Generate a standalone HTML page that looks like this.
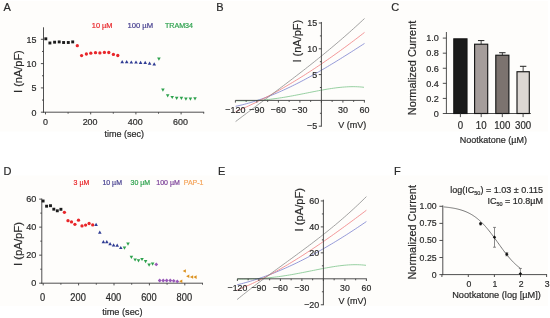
<!DOCTYPE html>
<html><head><meta charset="utf-8"><style>
html,body{margin:0;padding:0;background:#fff;}
body{width:550px;height:318px;overflow:hidden;}
svg{display:block;font-family:"Liberation Sans", sans-serif;will-change:transform;filter:blur(0.3px);}
</style></head><body>
<svg width="550" height="318" viewBox="0 0 550 318">
<rect width="550" height="318" fill="#fff"/>
<rect x="0" y="1" width="548" height="130.5" fill="#fefdfb"/>
<rect x="0" y="175.5" width="548" height="130.5" fill="#fefdfb"/>
<polyline points="236.00,100.74 238.17,100.81 240.34,100.85 242.51,100.87 244.68,100.87 246.85,100.85 249.02,100.81 251.19,100.74 253.36,100.66 255.53,100.55 257.69,100.42 259.86,100.27 262.03,100.10 264.20,99.90 266.37,99.69 268.54,99.46 270.71,99.21 272.88,98.94 275.05,98.65 277.22,98.35 279.39,98.03 281.56,97.70 283.73,97.35 285.90,96.99 288.07,96.61 290.24,96.22 292.41,95.83 294.58,95.42 296.75,95.01 298.92,94.59 301.08,94.16 303.25,93.73 305.42,93.30 307.59,92.86 309.76,92.43 311.93,92.00 314.10,91.57 316.27,91.15 318.44,90.73 320.61,90.32 322.78,89.93 324.95,89.54 327.12,89.17 329.29,88.82 331.46,88.49 333.63,88.18 335.80,87.89 337.97,87.62 340.14,87.38 342.31,87.18 344.47,87.00 346.64,86.86 348.81,86.76 350.98,86.69 353.15,86.67 355.32,86.69 357.49,86.77 359.66,86.89 361.83,87.06 364.00,87.30" fill="none" stroke="#7cc48a" stroke-width="0.8" stroke-linejoin="round"/>
<polyline points="235.60,106.30 237.78,105.84 239.97,105.35 242.15,104.83 244.34,104.28 246.52,103.70 248.71,103.10 250.89,102.46 253.08,101.80 255.26,101.12 257.45,100.41 259.63,99.67 261.82,98.91 264.00,98.12 266.19,97.31 268.37,96.48 270.56,95.62 272.74,94.74 274.93,93.84 277.11,92.91 279.29,91.97 281.48,91.00 283.66,90.01 285.85,89.01 288.03,87.98 290.22,86.94 292.40,85.87 294.59,84.79 296.77,83.69 298.96,82.58 301.14,81.44 303.33,80.30 305.51,79.13 307.70,77.95 309.88,76.76 312.07,75.55 314.25,74.32 316.44,73.09 318.62,71.84 320.81,70.58 322.99,69.30 325.17,68.02 327.36,66.72 329.54,65.42 331.73,64.10 333.91,62.77 336.10,61.44 338.28,60.09 340.47,58.74 342.65,57.38 344.84,56.01 347.02,54.63 349.21,53.25 351.39,51.86 353.58,50.47 355.76,49.07 357.95,47.67 360.13,46.26 362.32,44.85 364.50,43.44" fill="none" stroke="#7b82cf" stroke-width="0.8" stroke-linejoin="round"/>
<polyline points="235.60,111.68 237.78,110.75 239.97,109.80 242.15,108.84 244.34,107.86 246.52,106.87 248.71,105.86 250.89,104.83 253.08,103.79 255.26,102.74 257.45,101.67 259.63,100.58 261.82,99.48 264.00,98.36 266.19,97.22 268.37,96.08 270.56,94.91 272.74,93.74 274.93,92.54 277.11,91.34 279.29,90.12 281.48,88.88 283.66,87.63 285.85,86.37 288.03,85.09 290.22,83.80 292.40,82.50 294.59,81.18 296.77,79.84 298.96,78.50 301.14,77.14 303.33,75.77 305.51,74.38 307.70,72.98 309.88,71.57 312.07,70.15 314.25,68.71 316.44,67.26 318.62,65.80 320.81,64.33 322.99,62.84 325.17,61.34 327.36,59.83 329.54,58.31 331.73,56.78 333.91,55.23 336.10,53.67 338.28,52.10 340.47,50.52 342.65,48.93 344.84,47.33 347.02,45.72 349.21,44.09 351.39,42.46 353.58,40.81 355.76,39.15 357.95,37.49 360.13,35.81 362.32,34.12 364.50,32.42" fill="none" stroke="#f07d80" stroke-width="0.8" stroke-linejoin="round"/>
<polyline points="235.60,121.57 237.78,119.91 239.97,118.26 242.15,116.61 244.34,114.96 246.52,113.32 248.71,111.68 250.89,110.04 253.08,108.41 255.26,106.77 257.45,105.14 259.63,103.50 261.82,101.87 264.00,100.24 266.19,98.60 268.37,96.97 270.56,95.34 272.74,93.70 274.93,92.06 277.11,90.42 279.29,88.78 281.48,87.13 283.66,85.48 285.85,83.83 288.03,82.17 290.22,80.51 292.40,78.84 294.59,77.16 296.77,75.49 298.96,73.80 301.14,72.11 303.33,70.41 305.51,68.71 307.70,66.99 309.88,65.27 312.07,63.54 314.25,61.80 316.44,60.06 318.62,58.30 320.81,56.53 322.99,54.75 325.17,52.97 327.36,51.17 329.54,49.36 331.73,47.53 333.91,45.70 336.10,43.85 338.28,41.99 340.47,40.12 342.65,38.23 344.84,36.33 347.02,34.41 349.21,32.48 351.39,30.54 353.58,28.57 355.76,26.60 357.95,24.60 360.13,22.59 362.32,20.56 364.50,18.52" fill="none" stroke="#8a8a8a" stroke-width="0.8" stroke-linejoin="round"/>
<polyline points="237.10,279.06 239.28,279.07 241.47,279.08 243.65,279.07 245.84,279.05 248.02,279.01 250.21,278.95 252.39,278.88 254.58,278.79 256.76,278.68 258.95,278.56 261.13,278.42 263.32,278.26 265.50,278.08 267.69,277.88 269.87,277.67 272.06,277.43 274.24,277.18 276.43,276.92 278.61,276.63 280.79,276.33 282.98,276.01 285.16,275.68 287.35,275.33 289.53,274.97 291.72,274.60 293.90,274.21 296.09,273.81 298.27,273.40 300.46,272.99 302.64,272.56 304.83,272.13 307.01,271.70 309.20,271.26 311.38,270.82 313.57,270.38 315.75,269.94 317.94,269.50 320.12,269.07 322.31,268.65 324.49,268.23 326.67,267.83 328.86,267.44 331.04,267.07 333.23,266.71 335.41,266.37 337.60,266.06 339.78,265.77 341.97,265.51 344.15,265.28 346.34,265.08 348.52,264.92 350.71,264.80 352.89,264.72 355.08,264.69 357.26,264.71 359.45,264.77 361.63,264.90 363.82,265.08 366.00,265.32" fill="none" stroke="#7cc48a" stroke-width="0.8" stroke-linejoin="round"/>
<polyline points="237.10,284.80 239.29,284.26 241.48,283.70 243.67,283.12 245.87,282.52 248.06,281.90 250.25,281.25 252.44,280.58 254.63,279.89 256.82,279.19 259.02,278.46 261.21,277.71 263.40,276.94 265.59,276.15 267.78,275.34 269.97,274.51 272.16,273.66 274.36,272.79 276.55,271.90 278.74,270.99 280.93,270.07 283.12,269.12 285.31,268.16 287.51,267.18 289.70,266.18 291.89,265.17 294.08,264.13 296.27,263.08 298.46,262.02 300.65,260.93 302.85,259.83 305.04,258.71 307.23,257.58 309.42,256.43 311.61,255.26 313.80,254.08 315.99,252.88 318.19,251.67 320.38,250.44 322.57,249.20 324.76,247.94 326.95,246.67 329.14,245.39 331.34,244.09 333.53,242.77 335.72,241.44 337.91,240.10 340.10,238.75 342.29,237.38 344.48,236.00 346.68,234.61 348.87,233.20 351.06,231.78 353.25,230.35 355.44,228.91 357.63,227.45 359.83,225.99 362.02,224.51 364.21,223.02 366.40,221.53" fill="none" stroke="#7b82cf" stroke-width="0.8" stroke-linejoin="round"/>
<polyline points="237.10,290.10 239.29,289.22 241.48,288.31 243.67,287.38 245.87,286.43 248.06,285.46 250.25,284.47 252.44,283.46 254.63,282.43 256.82,281.38 259.02,280.31 261.21,279.22 263.40,278.11 265.59,276.98 267.78,275.83 269.97,274.67 272.16,273.49 274.36,272.29 276.55,271.07 278.74,269.84 280.93,268.59 283.12,267.32 285.31,266.04 287.51,264.74 289.70,263.43 291.89,262.10 294.08,260.76 296.27,259.41 298.46,258.04 300.65,256.65 302.85,255.25 305.04,253.84 307.23,252.42 309.42,250.98 311.61,249.53 313.80,248.07 315.99,246.60 318.19,245.12 320.38,243.62 322.57,242.12 324.76,240.60 326.95,239.08 329.14,237.54 331.34,236.00 333.53,234.44 335.72,232.88 337.91,231.31 340.10,229.73 342.29,228.14 344.48,226.55 346.68,224.95 348.87,223.34 351.06,221.72 353.25,220.10 355.44,218.47 357.63,216.83 359.83,215.19 362.02,213.55 364.21,211.90 366.40,210.24" fill="none" stroke="#f07d80" stroke-width="0.8" stroke-linejoin="round"/>
<polyline points="237.10,299.57 239.29,297.78 241.48,296.01 243.67,294.25 245.87,292.52 248.06,290.79 250.25,289.09 252.44,287.39 254.63,285.71 256.82,284.04 259.02,282.38 261.21,280.73 263.40,279.09 265.59,277.46 267.78,275.83 269.97,274.21 272.16,272.60 274.36,270.99 276.55,269.39 278.74,267.79 280.93,266.19 283.12,264.59 285.31,263.00 287.51,261.40 289.70,259.81 291.89,258.21 294.08,256.60 296.27,255.00 298.46,253.39 300.65,251.77 302.85,250.15 305.04,248.52 307.23,246.89 309.42,245.24 311.61,243.59 313.80,241.92 315.99,240.24 318.19,238.55 320.38,236.85 322.57,235.14 324.76,233.40 326.95,231.66 329.14,229.89 331.34,228.11 333.53,226.32 335.72,224.50 337.91,222.66 340.10,220.80 342.29,218.92 344.48,217.02 346.68,215.10 348.87,213.15 351.06,211.17 353.25,209.17 355.44,207.14 357.63,205.09 359.83,203.00 362.02,200.89 364.21,198.75 366.40,196.58" fill="none" stroke="#8a8a8a" stroke-width="0.8" stroke-linejoin="round"/>
<text x="3.60" y="10.90" font-size="11" text-anchor="start" fill="#2a2a2a" stroke="#2a2a2a" stroke-width="0.2" >A</text>
<text x="216.20" y="10.90" font-size="11" text-anchor="start" fill="#2a2a2a" stroke="#2a2a2a" stroke-width="0.2" >B</text>
<text x="391.30" y="10.90" font-size="11" text-anchor="start" fill="#2a2a2a" stroke="#2a2a2a" stroke-width="0.2" >C</text>
<text x="3.60" y="174.90" font-size="11" text-anchor="start" fill="#2a2a2a" stroke="#2a2a2a" stroke-width="0.2" >D</text>
<text x="217.90" y="174.90" font-size="11" text-anchor="start" fill="#2a2a2a" stroke="#2a2a2a" stroke-width="0.2" >E</text>
<text x="394.00" y="174.90" font-size="11" text-anchor="start" fill="#2a2a2a" stroke="#2a2a2a" stroke-width="0.2" >F</text>
<line x1="43.50" y1="27.30" x2="43.50" y2="112.65" stroke="#3c3c3c" stroke-width="0.9"/>
<line x1="43.05" y1="112.20" x2="204.15" y2="112.20" stroke="#3c3c3c" stroke-width="0.9"/>
<line x1="40.90" y1="112.20" x2="43.50" y2="112.20" stroke="#3c3c3c" stroke-width="0.9"/>
<text transform="translate(36.50,115.60) scale(0.93,1)" font-size="9.6" text-anchor="end" fill="#2a2a2a" stroke="#2a2a2a" stroke-width="0.2" >0</text>
<line x1="40.90" y1="87.90" x2="43.50" y2="87.90" stroke="#3c3c3c" stroke-width="0.9"/>
<text transform="translate(36.50,91.30) scale(0.93,1)" font-size="9.6" text-anchor="end" fill="#2a2a2a" stroke="#2a2a2a" stroke-width="0.2" >5</text>
<line x1="40.90" y1="63.60" x2="43.50" y2="63.60" stroke="#3c3c3c" stroke-width="0.9"/>
<text transform="translate(36.50,67.00) scale(0.93,1)" font-size="9.6" text-anchor="end" fill="#2a2a2a" stroke="#2a2a2a" stroke-width="0.2" >10</text>
<line x1="40.90" y1="39.30" x2="43.50" y2="39.30" stroke="#3c3c3c" stroke-width="0.9"/>
<text transform="translate(36.50,42.70) scale(0.93,1)" font-size="9.6" text-anchor="end" fill="#2a2a2a" stroke="#2a2a2a" stroke-width="0.2" >15</text>
<line x1="42.00" y1="100.05" x2="43.50" y2="100.05" stroke="#3c3c3c" stroke-width="0.9"/>
<line x1="42.00" y1="75.75" x2="43.50" y2="75.75" stroke="#3c3c3c" stroke-width="0.9"/>
<line x1="42.00" y1="51.45" x2="43.50" y2="51.45" stroke="#3c3c3c" stroke-width="0.9"/>
<line x1="45.50" y1="112.20" x2="45.50" y2="114.40" stroke="#3c3c3c" stroke-width="0.9"/>
<text transform="translate(45.50,124.90) scale(0.95,1)" font-size="9.4" text-anchor="middle" fill="#2a2a2a" stroke="#2a2a2a" stroke-width="0.2" >0</text>
<line x1="68.10" y1="112.20" x2="68.10" y2="113.70" stroke="#3c3c3c" stroke-width="0.9"/>
<line x1="90.70" y1="112.20" x2="90.70" y2="114.40" stroke="#3c3c3c" stroke-width="0.9"/>
<text transform="translate(90.10,124.90) scale(0.95,1)" font-size="9.4" text-anchor="middle" fill="#2a2a2a" stroke="#2a2a2a" stroke-width="0.2" >200</text>
<line x1="113.30" y1="112.20" x2="113.30" y2="113.70" stroke="#3c3c3c" stroke-width="0.9"/>
<line x1="135.90" y1="112.20" x2="135.90" y2="114.40" stroke="#3c3c3c" stroke-width="0.9"/>
<text transform="translate(135.30,124.90) scale(0.95,1)" font-size="9.4" text-anchor="middle" fill="#2a2a2a" stroke="#2a2a2a" stroke-width="0.2" >400</text>
<line x1="158.50" y1="112.20" x2="158.50" y2="113.70" stroke="#3c3c3c" stroke-width="0.9"/>
<line x1="181.10" y1="112.20" x2="181.10" y2="114.40" stroke="#3c3c3c" stroke-width="0.9"/>
<text transform="translate(180.50,124.90) scale(0.95,1)" font-size="9.4" text-anchor="middle" fill="#2a2a2a" stroke="#2a2a2a" stroke-width="0.2" >600</text>
<line x1="203.70" y1="112.20" x2="203.70" y2="113.70" stroke="#3c3c3c" stroke-width="0.9"/>
<text x="124.30" y="136.70" font-size="9" text-anchor="middle" fill="#2a2a2a" stroke="#2a2a2a" stroke-width="0.2" >time (sec)</text>
<text transform="translate(21.80,71.60) rotate(-90) scale(1,0.92)" font-size="11" text-anchor="middle" fill="#2a2a2a" stroke="#2a2a2a" stroke-width="0.2">I (nA/pF)</text>
<text x="91.80" y="28.40" font-size="7.4" text-anchor="start" fill="#e8262a" stroke="#e8262a" stroke-width="0.2" >10 µM</text>
<text x="127.40" y="28.40" font-size="7.7" text-anchor="start" fill="#463f8f" stroke="#463f8f" stroke-width="0.2" >100 µM</text>
<text x="165.00" y="28.30" font-size="7.1" text-anchor="start" fill="#2ea24e" stroke="#2ea24e" stroke-width="0.2" >TRAM34</text>
<rect x="44.35" y="37.35" width="2.9" height="2.9" fill="#1c1c1c"/>
<rect x="48.45" y="41.55" width="2.9" height="2.9" fill="#1c1c1c"/>
<rect x="53.15" y="40.75" width="2.9" height="2.9" fill="#1c1c1c"/>
<rect x="57.75" y="40.45" width="2.9" height="2.9" fill="#1c1c1c"/>
<rect x="62.15" y="41.05" width="2.9" height="2.9" fill="#1c1c1c"/>
<rect x="66.85" y="41.05" width="2.9" height="2.9" fill="#1c1c1c"/>
<rect x="71.25" y="40.45" width="2.9" height="2.9" fill="#1c1c1c"/>
<circle cx="77.30" cy="45.70" r="1.65" fill="#e8262a"/>
<circle cx="81.60" cy="55.60" r="1.65" fill="#e8262a"/>
<circle cx="86.40" cy="54.00" r="1.65" fill="#e8262a"/>
<circle cx="90.80" cy="53.20" r="1.65" fill="#e8262a"/>
<circle cx="95.50" cy="52.70" r="1.65" fill="#e8262a"/>
<circle cx="99.90" cy="52.90" r="1.65" fill="#e8262a"/>
<circle cx="104.40" cy="52.40" r="1.65" fill="#e8262a"/>
<circle cx="108.80" cy="52.50" r="1.65" fill="#e8262a"/>
<circle cx="113.40" cy="54.40" r="1.65" fill="#e8262a"/>
<circle cx="117.80" cy="55.50" r="1.65" fill="#e8262a"/>
<path d="M120.40,63.30L124.00,63.30L122.20,60.10Z" fill="#2f3c94"/>
<path d="M124.90,63.30L128.50,63.30L126.70,60.10Z" fill="#2f3c94"/>
<path d="M129.50,63.60L133.10,63.60L131.30,60.40Z" fill="#2f3c94"/>
<path d="M134.20,63.60L137.80,63.60L136.00,60.40Z" fill="#2f3c94"/>
<path d="M138.80,64.00L142.40,64.00L140.60,60.80Z" fill="#2f3c94"/>
<path d="M143.40,64.00L147.00,64.00L145.20,60.80Z" fill="#2f3c94"/>
<path d="M147.80,64.70L151.40,64.70L149.60,61.50Z" fill="#2f3c94"/>
<path d="M152.40,65.40L156.00,65.40L154.20,62.20Z" fill="#2f3c94"/>
<path d="M157.10,57.50L160.70,57.50L158.90,60.70Z" fill="#2ea24e"/>
<path d="M161.10,88.50L164.70,88.50L162.90,91.70Z" fill="#2ea24e"/>
<path d="M165.90,94.20L169.50,94.20L167.70,97.40Z" fill="#2ea24e"/>
<path d="M170.40,95.90L174.00,95.90L172.20,99.10Z" fill="#2ea24e"/>
<path d="M174.90,96.80L178.50,96.80L176.70,100.00Z" fill="#2ea24e"/>
<path d="M179.60,96.80L183.20,96.80L181.40,100.00Z" fill="#2ea24e"/>
<path d="M184.10,97.60L187.70,97.60L185.90,100.80Z" fill="#2ea24e"/>
<path d="M188.60,97.60L192.20,97.60L190.40,100.80Z" fill="#2ea24e"/>
<path d="M193.20,97.20L196.80,97.20L195.00,100.40Z" fill="#2ea24e"/>
<line x1="321.40" y1="21.97" x2="321.40" y2="126.65" stroke="#3c3c3c" stroke-width="0.9"/>
<line x1="235.40" y1="100.40" x2="364.85" y2="100.40" stroke="#3c3c3c" stroke-width="0.9"/>
<line x1="235.40" y1="100.40" x2="235.40" y2="102.60" stroke="#3c3c3c" stroke-width="0.9"/>
<text transform="translate(235.40,112.80) scale(0.93,1)" font-size="9.6" text-anchor="middle" fill="#2a2a2a" stroke="#2a2a2a" stroke-width="0.2" >−120</text>
<line x1="246.15" y1="100.40" x2="246.15" y2="101.90" stroke="#3c3c3c" stroke-width="0.9"/>
<line x1="256.90" y1="100.40" x2="256.90" y2="102.60" stroke="#3c3c3c" stroke-width="0.9"/>
<text transform="translate(256.90,112.80) scale(0.93,1)" font-size="9.6" text-anchor="middle" fill="#2a2a2a" stroke="#2a2a2a" stroke-width="0.2" >−90</text>
<line x1="267.65" y1="100.40" x2="267.65" y2="101.90" stroke="#3c3c3c" stroke-width="0.9"/>
<line x1="278.40" y1="100.40" x2="278.40" y2="102.60" stroke="#3c3c3c" stroke-width="0.9"/>
<text transform="translate(278.40,112.80) scale(0.93,1)" font-size="9.6" text-anchor="middle" fill="#2a2a2a" stroke="#2a2a2a" stroke-width="0.2" >−60</text>
<line x1="289.15" y1="100.40" x2="289.15" y2="101.90" stroke="#3c3c3c" stroke-width="0.9"/>
<line x1="299.90" y1="100.40" x2="299.90" y2="102.60" stroke="#3c3c3c" stroke-width="0.9"/>
<text transform="translate(299.90,112.80) scale(0.93,1)" font-size="9.6" text-anchor="middle" fill="#2a2a2a" stroke="#2a2a2a" stroke-width="0.2" >−30</text>
<line x1="310.65" y1="100.40" x2="310.65" y2="101.90" stroke="#3c3c3c" stroke-width="0.9"/>
<line x1="321.40" y1="100.40" x2="321.40" y2="102.60" stroke="#3c3c3c" stroke-width="0.9"/>
<line x1="332.15" y1="100.40" x2="332.15" y2="101.90" stroke="#3c3c3c" stroke-width="0.9"/>
<line x1="342.90" y1="100.40" x2="342.90" y2="102.60" stroke="#3c3c3c" stroke-width="0.9"/>
<text transform="translate(342.90,112.80) scale(0.93,1)" font-size="9.6" text-anchor="middle" fill="#2a2a2a" stroke="#2a2a2a" stroke-width="0.2" >30</text>
<line x1="353.65" y1="100.40" x2="353.65" y2="101.90" stroke="#3c3c3c" stroke-width="0.9"/>
<line x1="364.40" y1="100.40" x2="364.40" y2="102.60" stroke="#3c3c3c" stroke-width="0.9"/>
<text transform="translate(364.40,112.80) scale(0.93,1)" font-size="9.6" text-anchor="middle" fill="#2a2a2a" stroke="#2a2a2a" stroke-width="0.2" >60</text>
<line x1="318.80" y1="126.20" x2="321.40" y2="126.20" stroke="#3c3c3c" stroke-width="0.9"/>
<text transform="translate(317.20,129.20) scale(0.93,1)" font-size="9.6" text-anchor="end" fill="#2a2a2a" stroke="#2a2a2a" stroke-width="0.2" >−5</text>
<line x1="318.80" y1="74.60" x2="321.40" y2="74.60" stroke="#3c3c3c" stroke-width="0.9"/>
<text transform="translate(317.20,77.60) scale(0.93,1)" font-size="9.6" text-anchor="end" fill="#2a2a2a" stroke="#2a2a2a" stroke-width="0.2" >5</text>
<line x1="318.80" y1="48.80" x2="321.40" y2="48.80" stroke="#3c3c3c" stroke-width="0.9"/>
<text transform="translate(317.20,51.80) scale(0.93,1)" font-size="9.6" text-anchor="end" fill="#2a2a2a" stroke="#2a2a2a" stroke-width="0.2" >10</text>
<line x1="318.80" y1="23.00" x2="321.40" y2="23.00" stroke="#3c3c3c" stroke-width="0.9"/>
<text transform="translate(317.20,26.00) scale(0.93,1)" font-size="9.6" text-anchor="end" fill="#2a2a2a" stroke="#2a2a2a" stroke-width="0.2" >15</text>
<line x1="319.90" y1="113.30" x2="321.40" y2="113.30" stroke="#3c3c3c" stroke-width="0.9"/>
<line x1="319.90" y1="87.50" x2="321.40" y2="87.50" stroke="#3c3c3c" stroke-width="0.9"/>
<line x1="319.90" y1="61.70" x2="321.40" y2="61.70" stroke="#3c3c3c" stroke-width="0.9"/>
<line x1="319.90" y1="35.90" x2="321.40" y2="35.90" stroke="#3c3c3c" stroke-width="0.9"/>
<text x="366.20" y="127.70" font-size="9" text-anchor="end" fill="#2a2a2a" stroke="#2a2a2a" stroke-width="0.2" >V (mV)</text>
<text transform="translate(301.20,41.20) rotate(-90) scale(1,0.92)" font-size="11" text-anchor="middle" fill="#2a2a2a" stroke="#2a2a2a" stroke-width="0.2">I (nA/pF)</text>
<line x1="446.40" y1="32.00" x2="446.40" y2="113.95" stroke="#3c3c3c" stroke-width="0.9"/>
<line x1="445.95" y1="113.50" x2="530.90" y2="113.50" stroke="#3c3c3c" stroke-width="0.9"/>
<line x1="442.80" y1="113.50" x2="446.40" y2="113.50" stroke="#3c3c3c" stroke-width="0.9"/>
<text transform="translate(438.90,116.80) scale(0.95,1)" font-size="9.6" text-anchor="end" fill="#2a2a2a" stroke="#2a2a2a" stroke-width="0.2" >0</text>
<line x1="442.80" y1="98.42" x2="446.40" y2="98.42" stroke="#3c3c3c" stroke-width="0.9"/>
<text transform="translate(438.90,101.72) scale(0.95,1)" font-size="9.6" text-anchor="end" fill="#2a2a2a" stroke="#2a2a2a" stroke-width="0.2" >0.2</text>
<line x1="442.80" y1="83.34" x2="446.40" y2="83.34" stroke="#3c3c3c" stroke-width="0.9"/>
<text transform="translate(438.90,86.64) scale(0.95,1)" font-size="9.6" text-anchor="end" fill="#2a2a2a" stroke="#2a2a2a" stroke-width="0.2" >0.4</text>
<line x1="442.80" y1="68.26" x2="446.40" y2="68.26" stroke="#3c3c3c" stroke-width="0.9"/>
<text transform="translate(438.90,71.56) scale(0.95,1)" font-size="9.6" text-anchor="end" fill="#2a2a2a" stroke="#2a2a2a" stroke-width="0.2" >0.6</text>
<line x1="442.80" y1="53.18" x2="446.40" y2="53.18" stroke="#3c3c3c" stroke-width="0.9"/>
<text transform="translate(438.90,56.48) scale(0.95,1)" font-size="9.6" text-anchor="end" fill="#2a2a2a" stroke="#2a2a2a" stroke-width="0.2" >0.8</text>
<line x1="442.80" y1="38.10" x2="446.40" y2="38.10" stroke="#3c3c3c" stroke-width="0.9"/>
<text transform="translate(438.90,41.40) scale(0.95,1)" font-size="9.6" text-anchor="end" fill="#2a2a2a" stroke="#2a2a2a" stroke-width="0.2" >1.0</text>
<rect x="453.80" y="38.85" width="13.20" height="74.65" fill="#1b1b1b" stroke="#161616" stroke-width="1.15"/>
<line x1="481.15" y1="40.59" x2="481.15" y2="44.21" stroke="#333" stroke-width="0.9"/>
<line x1="477.95" y1="40.59" x2="484.35" y2="40.59" stroke="#222" stroke-width="1.0"/>
<rect x="474.60" y="44.21" width="13.10" height="69.29" fill="#a59d9b" stroke="#161616" stroke-width="1.15"/>
<line x1="502.35" y1="52.73" x2="502.35" y2="55.22" stroke="#333" stroke-width="0.9"/>
<line x1="499.15" y1="52.73" x2="505.55" y2="52.73" stroke="#222" stroke-width="1.0"/>
<rect x="495.80" y="55.22" width="13.10" height="58.28" fill="#7c736f" stroke="#161616" stroke-width="1.15"/>
<line x1="523.15" y1="66.30" x2="523.15" y2="71.73" stroke="#333" stroke-width="0.9"/>
<line x1="519.95" y1="66.30" x2="526.35" y2="66.30" stroke="#222" stroke-width="1.0"/>
<rect x="517.00" y="71.73" width="12.30" height="41.77" fill="#dcd7d3" stroke="#161616" stroke-width="1.15"/>
<line x1="460.40" y1="113.50" x2="460.40" y2="117.10" stroke="#3c3c3c" stroke-width="0.9"/>
<text transform="translate(460.40,128.90) scale(0.93,1)" font-size="10.4" text-anchor="middle" fill="#2a2a2a" stroke="#2a2a2a" stroke-width="0.2" >0</text>
<line x1="481.20" y1="113.50" x2="481.20" y2="117.10" stroke="#3c3c3c" stroke-width="0.9"/>
<text transform="translate(481.20,128.90) scale(0.93,1)" font-size="10.4" text-anchor="middle" fill="#2a2a2a" stroke="#2a2a2a" stroke-width="0.2" >10</text>
<line x1="502.30" y1="113.50" x2="502.30" y2="117.10" stroke="#3c3c3c" stroke-width="0.9"/>
<text transform="translate(502.30,128.90) scale(0.93,1)" font-size="10.4" text-anchor="middle" fill="#2a2a2a" stroke="#2a2a2a" stroke-width="0.2" >100</text>
<line x1="523.10" y1="113.50" x2="523.10" y2="117.10" stroke="#3c3c3c" stroke-width="0.9"/>
<text transform="translate(523.10,128.90) scale(0.93,1)" font-size="10.4" text-anchor="middle" fill="#2a2a2a" stroke="#2a2a2a" stroke-width="0.2" >300</text>
<text x="493.30" y="142.70" font-size="9" text-anchor="middle" fill="#2a2a2a" stroke="#2a2a2a" stroke-width="0.2" >Nootkatone (µM)</text>
<text transform="translate(415.50,68.00) rotate(-90) scale(1,0.92)" font-size="10.9" text-anchor="middle" fill="#2a2a2a" stroke="#2a2a2a" stroke-width="0.2">Normalized Current</text>
<line x1="41.80" y1="198.50" x2="41.80" y2="283.65" stroke="#3c3c3c" stroke-width="0.9"/>
<line x1="41.35" y1="283.20" x2="202.95" y2="283.20" stroke="#3c3c3c" stroke-width="0.9"/>
<line x1="39.20" y1="283.20" x2="41.80" y2="283.20" stroke="#3c3c3c" stroke-width="0.9"/>
<text transform="translate(36.40,286.20) scale(0.93,1)" font-size="9.8" text-anchor="end" fill="#2a2a2a" stroke="#2a2a2a" stroke-width="0.2" >0</text>
<line x1="40.30" y1="269.19" x2="41.80" y2="269.19" stroke="#3c3c3c" stroke-width="0.9"/>
<line x1="39.20" y1="255.17" x2="41.80" y2="255.17" stroke="#3c3c3c" stroke-width="0.9"/>
<text transform="translate(36.40,258.17) scale(0.93,1)" font-size="9.8" text-anchor="end" fill="#2a2a2a" stroke="#2a2a2a" stroke-width="0.2" >20</text>
<line x1="40.30" y1="241.15" x2="41.80" y2="241.15" stroke="#3c3c3c" stroke-width="0.9"/>
<line x1="39.20" y1="227.14" x2="41.80" y2="227.14" stroke="#3c3c3c" stroke-width="0.9"/>
<text transform="translate(36.40,230.14) scale(0.93,1)" font-size="9.8" text-anchor="end" fill="#2a2a2a" stroke="#2a2a2a" stroke-width="0.2" >40</text>
<line x1="40.30" y1="213.12" x2="41.80" y2="213.12" stroke="#3c3c3c" stroke-width="0.9"/>
<line x1="39.20" y1="199.11" x2="41.80" y2="199.11" stroke="#3c3c3c" stroke-width="0.9"/>
<text transform="translate(36.40,202.11) scale(0.93,1)" font-size="9.8" text-anchor="end" fill="#2a2a2a" stroke="#2a2a2a" stroke-width="0.2" >60</text>
<line x1="43.20" y1="283.20" x2="43.20" y2="285.40" stroke="#3c3c3c" stroke-width="0.9"/>
<text transform="translate(42.70,300.70) scale(0.93,1)" font-size="10" text-anchor="middle" fill="#2a2a2a" stroke="#2a2a2a" stroke-width="0.2" >0</text>
<line x1="60.90" y1="283.20" x2="60.90" y2="284.70" stroke="#3c3c3c" stroke-width="0.9"/>
<line x1="78.60" y1="283.20" x2="78.60" y2="285.40" stroke="#3c3c3c" stroke-width="0.9"/>
<text transform="translate(78.10,300.70) scale(0.93,1)" font-size="10" text-anchor="middle" fill="#2a2a2a" stroke="#2a2a2a" stroke-width="0.2" >200</text>
<line x1="96.30" y1="283.20" x2="96.30" y2="284.70" stroke="#3c3c3c" stroke-width="0.9"/>
<line x1="114.00" y1="283.20" x2="114.00" y2="285.40" stroke="#3c3c3c" stroke-width="0.9"/>
<text transform="translate(113.50,300.70) scale(0.93,1)" font-size="10" text-anchor="middle" fill="#2a2a2a" stroke="#2a2a2a" stroke-width="0.2" >400</text>
<line x1="131.70" y1="283.20" x2="131.70" y2="284.70" stroke="#3c3c3c" stroke-width="0.9"/>
<line x1="149.40" y1="283.20" x2="149.40" y2="285.40" stroke="#3c3c3c" stroke-width="0.9"/>
<text transform="translate(148.90,300.70) scale(0.93,1)" font-size="10" text-anchor="middle" fill="#2a2a2a" stroke="#2a2a2a" stroke-width="0.2" >600</text>
<line x1="167.10" y1="283.20" x2="167.10" y2="284.70" stroke="#3c3c3c" stroke-width="0.9"/>
<line x1="184.80" y1="283.20" x2="184.80" y2="285.40" stroke="#3c3c3c" stroke-width="0.9"/>
<text transform="translate(184.30,300.70) scale(0.93,1)" font-size="10" text-anchor="middle" fill="#2a2a2a" stroke="#2a2a2a" stroke-width="0.2" >800</text>
<line x1="202.50" y1="283.20" x2="202.50" y2="284.70" stroke="#3c3c3c" stroke-width="0.9"/>
<text x="122.30" y="315.00" font-size="9.2" text-anchor="middle" fill="#2a2a2a" stroke="#2a2a2a" stroke-width="0.2" >time (sec)</text>
<text transform="translate(21.80,244.00) rotate(-90) scale(1,0.92)" font-size="11.3" text-anchor="middle" fill="#2a2a2a" stroke="#2a2a2a" stroke-width="0.2">I (pA/pF)</text>
<text x="73.60" y="184.90" font-size="7.0" text-anchor="start" fill="#e8262a" stroke="#e8262a" stroke-width="0.2" >3 µM</text>
<text x="102.40" y="184.90" font-size="7.0" text-anchor="start" fill="#463f8f" stroke="#463f8f" stroke-width="0.2" >10 µM</text>
<text x="130.60" y="184.90" font-size="7.0" text-anchor="start" fill="#2ea24e" stroke="#2ea24e" stroke-width="0.2" >30 µM</text>
<text x="156.30" y="184.90" font-size="7.0" text-anchor="start" fill="#7b3f98" stroke="#7b3f98" stroke-width="0.2" >100 µM</text>
<text x="183.80" y="184.90" font-size="7.0" text-anchor="start" fill="#f4a45a" stroke="#f4a45a" stroke-width="0.2" >PAP-1</text>
<rect x="41.65" y="199.55" width="2.9" height="2.9" fill="#1c1c1c"/>
<rect x="45.15" y="204.75" width="2.9" height="2.9" fill="#1c1c1c"/>
<rect x="49.05" y="204.25" width="2.9" height="2.9" fill="#1c1c1c"/>
<rect x="52.35" y="207.75" width="2.9" height="2.9" fill="#1c1c1c"/>
<rect x="55.85" y="209.35" width="2.9" height="2.9" fill="#1c1c1c"/>
<rect x="59.45" y="207.85" width="2.9" height="2.9" fill="#1c1c1c"/>
<circle cx="64.40" cy="212.30" r="1.65" fill="#e8262a"/>
<circle cx="68.00" cy="220.70" r="1.65" fill="#e8262a"/>
<circle cx="71.50" cy="221.90" r="1.65" fill="#e8262a"/>
<circle cx="74.90" cy="224.30" r="1.65" fill="#e8262a"/>
<circle cx="78.50" cy="220.20" r="1.65" fill="#e8262a"/>
<circle cx="82.00" cy="225.90" r="1.65" fill="#e8262a"/>
<circle cx="85.60" cy="225.10" r="1.65" fill="#e8262a"/>
<circle cx="89.10" cy="223.50" r="1.65" fill="#e8262a"/>
<circle cx="92.70" cy="224.90" r="1.65" fill="#e8262a"/>
<path d="M94.30,225.90L97.90,225.90L96.10,222.70Z" fill="#2f3c94"/>
<path d="M98.00,233.70L101.60,233.70L99.80,230.50Z" fill="#2f3c94"/>
<path d="M101.60,243.20L105.20,243.20L103.40,240.00Z" fill="#2f3c94"/>
<path d="M105.00,243.20L108.60,243.20L106.80,240.00Z" fill="#2f3c94"/>
<path d="M108.30,245.20L111.90,245.20L110.10,242.00Z" fill="#2f3c94"/>
<path d="M111.80,246.50L115.40,246.50L113.60,243.30Z" fill="#2f3c94"/>
<path d="M115.40,246.80L119.00,246.80L117.20,243.60Z" fill="#2f3c94"/>
<path d="M119.00,249.10L122.60,249.10L120.80,245.90Z" fill="#2f3c94"/>
<path d="M122.70,246.50L126.30,246.50L124.50,249.70Z" fill="#2ea24e"/>
<path d="M126.20,242.60L129.80,242.60L128.00,245.80Z" fill="#2ea24e"/>
<path d="M129.60,255.80L133.20,255.80L131.40,259.00Z" fill="#2ea24e"/>
<path d="M133.30,258.40L136.90,258.40L135.10,261.60Z" fill="#2ea24e"/>
<path d="M136.70,259.20L140.30,259.20L138.50,262.40Z" fill="#2ea24e"/>
<path d="M140.20,257.90L143.80,257.90L142.00,261.10Z" fill="#2ea24e"/>
<path d="M143.80,260.00L147.40,260.00L145.60,263.20Z" fill="#2ea24e"/>
<path d="M147.30,263.60L150.90,263.60L149.10,266.80Z" fill="#2ea24e"/>
<path d="M150.80,262.50L154.40,262.50L152.60,265.70Z" fill="#2ea24e"/>
<path d="M156.30,262.50L158.20,264.40L156.30,266.30L154.40,264.40Z" fill="#9858b8"/>
<path d="M159.70,278.60L161.60,280.50L159.70,282.40L157.80,280.50Z" fill="#9858b8"/>
<path d="M163.20,278.60L165.10,280.50L163.20,282.40L161.30,280.50Z" fill="#9858b8"/>
<path d="M166.70,278.60L168.60,280.50L166.70,282.40L164.80,280.50Z" fill="#9858b8"/>
<path d="M170.30,278.60L172.20,280.50L170.30,282.40L168.40,280.50Z" fill="#9858b8"/>
<path d="M173.70,278.90L175.60,280.80L173.70,282.70L171.80,280.80Z" fill="#9858b8"/>
<path d="M177.30,279.50L179.20,281.40L177.30,283.30L175.40,281.40Z" fill="#9858b8"/>
<path d="M182.30,279.40L182.30,283.00L179.10,281.20Z" fill="#dc921f"/>
<path d="M185.90,269.20L185.90,272.80L182.70,271.00Z" fill="#dc921f"/>
<path d="M189.30,274.50L189.30,278.10L186.10,276.30Z" fill="#dc921f"/>
<path d="M193.10,275.20L193.10,278.80L189.90,277.00Z" fill="#dc921f"/>
<path d="M196.60,275.30L196.60,278.90L193.40,277.10Z" fill="#dc921f"/>
<line x1="323.40" y1="199.65" x2="323.40" y2="305.20" stroke="#3c3c3c" stroke-width="0.9"/>
<line x1="237.40" y1="278.80" x2="366.85" y2="278.80" stroke="#3c3c3c" stroke-width="0.9"/>
<line x1="237.40" y1="278.80" x2="237.40" y2="281.00" stroke="#3c3c3c" stroke-width="0.9"/>
<text transform="translate(237.40,290.60) scale(0.93,1)" font-size="9.4" text-anchor="middle" fill="#2a2a2a" stroke="#2a2a2a" stroke-width="0.2" >−120</text>
<line x1="248.15" y1="278.80" x2="248.15" y2="280.30" stroke="#3c3c3c" stroke-width="0.9"/>
<line x1="258.90" y1="278.80" x2="258.90" y2="281.00" stroke="#3c3c3c" stroke-width="0.9"/>
<text transform="translate(258.90,290.60) scale(0.93,1)" font-size="9.4" text-anchor="middle" fill="#2a2a2a" stroke="#2a2a2a" stroke-width="0.2" >−90</text>
<line x1="269.65" y1="278.80" x2="269.65" y2="280.30" stroke="#3c3c3c" stroke-width="0.9"/>
<line x1="280.40" y1="278.80" x2="280.40" y2="281.00" stroke="#3c3c3c" stroke-width="0.9"/>
<text transform="translate(280.40,290.60) scale(0.93,1)" font-size="9.4" text-anchor="middle" fill="#2a2a2a" stroke="#2a2a2a" stroke-width="0.2" >−60</text>
<line x1="291.15" y1="278.80" x2="291.15" y2="280.30" stroke="#3c3c3c" stroke-width="0.9"/>
<line x1="301.90" y1="278.80" x2="301.90" y2="281.00" stroke="#3c3c3c" stroke-width="0.9"/>
<text transform="translate(301.90,290.60) scale(0.93,1)" font-size="9.4" text-anchor="middle" fill="#2a2a2a" stroke="#2a2a2a" stroke-width="0.2" >−30</text>
<line x1="312.65" y1="278.80" x2="312.65" y2="280.30" stroke="#3c3c3c" stroke-width="0.9"/>
<line x1="323.40" y1="278.80" x2="323.40" y2="281.00" stroke="#3c3c3c" stroke-width="0.9"/>
<line x1="334.15" y1="278.80" x2="334.15" y2="280.30" stroke="#3c3c3c" stroke-width="0.9"/>
<line x1="344.90" y1="278.80" x2="344.90" y2="281.00" stroke="#3c3c3c" stroke-width="0.9"/>
<text transform="translate(344.90,290.60) scale(0.93,1)" font-size="9.4" text-anchor="middle" fill="#2a2a2a" stroke="#2a2a2a" stroke-width="0.2" >30</text>
<line x1="355.65" y1="278.80" x2="355.65" y2="280.30" stroke="#3c3c3c" stroke-width="0.9"/>
<line x1="366.40" y1="278.80" x2="366.40" y2="281.00" stroke="#3c3c3c" stroke-width="0.9"/>
<text transform="translate(366.40,290.60) scale(0.93,1)" font-size="9.4" text-anchor="middle" fill="#2a2a2a" stroke="#2a2a2a" stroke-width="0.2" >60</text>
<line x1="320.80" y1="304.75" x2="323.40" y2="304.75" stroke="#3c3c3c" stroke-width="0.9"/>
<text transform="translate(319.30,307.95) scale(0.93,1)" font-size="9.6" text-anchor="end" fill="#2a2a2a" stroke="#2a2a2a" stroke-width="0.2" >−20</text>
<line x1="320.80" y1="252.85" x2="323.40" y2="252.85" stroke="#3c3c3c" stroke-width="0.9"/>
<text transform="translate(319.30,256.05) scale(0.93,1)" font-size="9.6" text-anchor="end" fill="#2a2a2a" stroke="#2a2a2a" stroke-width="0.2" >20</text>
<line x1="320.80" y1="226.90" x2="323.40" y2="226.90" stroke="#3c3c3c" stroke-width="0.9"/>
<text transform="translate(319.30,230.10) scale(0.93,1)" font-size="9.6" text-anchor="end" fill="#2a2a2a" stroke="#2a2a2a" stroke-width="0.2" >40</text>
<line x1="320.80" y1="200.95" x2="323.40" y2="200.95" stroke="#3c3c3c" stroke-width="0.9"/>
<text transform="translate(319.30,204.15) scale(0.93,1)" font-size="9.6" text-anchor="end" fill="#2a2a2a" stroke="#2a2a2a" stroke-width="0.2" >60</text>
<line x1="321.90" y1="291.78" x2="323.40" y2="291.78" stroke="#3c3c3c" stroke-width="0.9"/>
<line x1="321.90" y1="265.82" x2="323.40" y2="265.82" stroke="#3c3c3c" stroke-width="0.9"/>
<line x1="321.90" y1="239.88" x2="323.40" y2="239.88" stroke="#3c3c3c" stroke-width="0.9"/>
<line x1="321.90" y1="213.93" x2="323.40" y2="213.93" stroke="#3c3c3c" stroke-width="0.9"/>
<text x="366.60" y="304.20" font-size="9" text-anchor="end" fill="#2a2a2a" stroke="#2a2a2a" stroke-width="0.2" >V (mV)</text>
<text transform="translate(302.90,209.70) rotate(-90) scale(1,0.92)" font-size="11.2" text-anchor="middle" fill="#2a2a2a" stroke="#2a2a2a" stroke-width="0.2">I (pA/pF)</text>
<line x1="442.80" y1="205.40" x2="442.80" y2="275.05" stroke="#3c3c3c" stroke-width="0.9"/>
<line x1="442.35" y1="274.60" x2="547.05" y2="274.60" stroke="#3c3c3c" stroke-width="0.9"/>
<line x1="439.40" y1="274.60" x2="442.80" y2="274.60" stroke="#3c3c3c" stroke-width="0.9"/>
<text transform="translate(436.60,277.60) scale(0.97,1)" font-size="9.0" text-anchor="end" fill="#2a2a2a" stroke="#2a2a2a" stroke-width="0.2" >0</text>
<line x1="439.40" y1="257.53" x2="442.80" y2="257.53" stroke="#3c3c3c" stroke-width="0.9"/>
<text transform="translate(436.60,260.53) scale(0.97,1)" font-size="9.0" text-anchor="end" fill="#2a2a2a" stroke="#2a2a2a" stroke-width="0.2" >0.25</text>
<line x1="439.40" y1="240.45" x2="442.80" y2="240.45" stroke="#3c3c3c" stroke-width="0.9"/>
<text transform="translate(436.60,243.45) scale(0.97,1)" font-size="9.0" text-anchor="end" fill="#2a2a2a" stroke="#2a2a2a" stroke-width="0.2" >0.50</text>
<line x1="439.40" y1="223.38" x2="442.80" y2="223.38" stroke="#3c3c3c" stroke-width="0.9"/>
<text transform="translate(436.60,226.38) scale(0.97,1)" font-size="9.0" text-anchor="end" fill="#2a2a2a" stroke="#2a2a2a" stroke-width="0.2" >0.75</text>
<line x1="439.40" y1="206.30" x2="442.80" y2="206.30" stroke="#3c3c3c" stroke-width="0.9"/>
<text transform="translate(436.60,209.30) scale(0.97,1)" font-size="9.0" text-anchor="end" fill="#2a2a2a" stroke="#2a2a2a" stroke-width="0.2" >1.00</text>
<line x1="441.90" y1="274.60" x2="441.90" y2="277.00" stroke="#3c3c3c" stroke-width="0.9"/>
<line x1="468.30" y1="274.60" x2="468.30" y2="277.00" stroke="#3c3c3c" stroke-width="0.9"/>
<text transform="translate(468.90,286.70) scale(0.93,1)" font-size="9.4" text-anchor="middle" fill="#2a2a2a" stroke="#2a2a2a" stroke-width="0.2" >0</text>
<line x1="494.40" y1="274.60" x2="494.40" y2="277.00" stroke="#3c3c3c" stroke-width="0.9"/>
<text transform="translate(495.00,286.70) scale(0.93,1)" font-size="9.4" text-anchor="middle" fill="#2a2a2a" stroke="#2a2a2a" stroke-width="0.2" >1</text>
<line x1="520.50" y1="274.60" x2="520.50" y2="277.00" stroke="#3c3c3c" stroke-width="0.9"/>
<text transform="translate(521.10,286.70) scale(0.93,1)" font-size="9.4" text-anchor="middle" fill="#2a2a2a" stroke="#2a2a2a" stroke-width="0.2" >2</text>
<line x1="546.60" y1="274.60" x2="546.60" y2="277.00" stroke="#3c3c3c" stroke-width="0.9"/>
<text transform="translate(547.20,286.70) scale(0.93,1)" font-size="9.4" text-anchor="middle" fill="#2a2a2a" stroke="#2a2a2a" stroke-width="0.2" >3</text>
<text x="496.50" y="297.60" font-size="9.2" text-anchor="middle" fill="#2a2a2a" stroke="#2a2a2a" stroke-width="0.2" >Nootkatone (log [µM])</text>
<text transform="translate(415.50,232.30) rotate(-90) scale(1,0.92)" font-size="10.9" text-anchor="middle" fill="#2a2a2a" stroke="#2a2a2a" stroke-width="0.2">Normalized Current</text>
<polyline points="443.64,206.90 444.61,206.99 445.57,207.09 446.54,207.19 447.51,207.30 448.48,207.42 449.45,207.55 450.42,207.68 451.39,207.83 452.36,207.99 453.33,208.16 454.30,208.34 455.27,208.53 456.24,208.73 457.21,208.95 458.18,209.19 459.15,209.44 460.12,209.71 461.09,210.00 462.06,210.31 463.03,210.63 464.00,210.98 464.97,211.35 465.94,211.75 466.91,212.17 467.88,212.61 468.85,213.09 469.82,213.59 470.79,214.12 471.76,214.68 472.73,215.28 473.70,215.91 474.66,216.57 475.63,217.27 476.60,218.01 477.57,218.78 478.54,219.59 479.51,220.43 480.48,221.32 481.45,222.24 482.42,223.21 483.39,224.21 484.36,225.24 485.33,226.32 486.30,227.43 487.27,228.57 488.24,229.75 489.21,230.96 490.18,232.19 491.15,233.45 492.12,234.74 493.09,236.04 494.06,237.37 495.03,238.70 496.00,240.05 496.97,241.41 497.94,242.77 498.91,244.12 499.88,245.48 500.85,246.83 501.82,248.16 502.79,249.49 503.75,250.79 504.72,252.07 505.69,253.33 506.66,254.57 507.63,255.77 508.60,256.95 509.57,258.09 510.54,259.19 511.51,260.27 512.48,261.30 513.45,262.30 514.42,263.26 515.39,264.18 516.36,265.06 517.33,265.91 518.30,266.71 519.27,267.48 520.24,268.21" fill="none" stroke="#555" stroke-width="0.8" stroke-linejoin="round"/>
<line x1="480.59" y1="222.76" x2="480.59" y2="224.81" stroke="#666" stroke-width="0.75"/>
<line x1="479.09" y1="222.76" x2="482.09" y2="222.76" stroke="#666" stroke-width="0.75"/>
<line x1="479.09" y1="224.81" x2="482.09" y2="224.81" stroke="#666" stroke-width="0.75"/>
<path d="M480.59,222.08L482.29,223.78L480.59,225.48L478.89,223.78Z" fill="#111"/>
<line x1="494.50" y1="227.40" x2="494.50" y2="247.21" stroke="#666" stroke-width="0.75"/>
<line x1="493.00" y1="227.40" x2="496.00" y2="227.40" stroke="#666" stroke-width="0.75"/>
<line x1="493.00" y1="247.21" x2="496.00" y2="247.21" stroke="#666" stroke-width="0.75"/>
<path d="M494.50,235.61L496.20,237.31L494.50,239.01L492.80,237.31Z" fill="#111"/>
<line x1="506.80" y1="252.74" x2="506.80" y2="255.75" stroke="#666" stroke-width="0.75"/>
<line x1="505.30" y1="252.74" x2="508.30" y2="252.74" stroke="#666" stroke-width="0.75"/>
<line x1="505.30" y1="255.75" x2="508.30" y2="255.75" stroke="#666" stroke-width="0.75"/>
<path d="M506.80,252.55L508.50,254.25L506.80,255.95L505.10,254.25Z" fill="#111"/>
<line x1="520.40" y1="268.45" x2="520.40" y2="274.60" stroke="#666" stroke-width="0.75"/>
<line x1="518.90" y1="268.45" x2="521.90" y2="268.45" stroke="#666" stroke-width="0.75"/>
<path d="M520.40,272.08L522.10,273.78L520.40,275.48L518.70,273.78Z" fill="#111"/>
<text x="543.00" y="193.30" font-size="9.0" text-anchor="end" fill="#2a2a2a" stroke="#2a2a2a" stroke-width="0.2" >log(IC<tspan font-size="5.5" dy="2">50</tspan><tspan dy="-2">) = 1.03 ± 0.115</tspan></text>
<text x="543.00" y="203.60" font-size="9.0" text-anchor="end" fill="#2a2a2a" stroke="#2a2a2a" stroke-width="0.2" >IC<tspan font-size="5.5" dy="2">50</tspan><tspan dy="-2"> = 10.8µM</tspan></text>
</svg>
</body></html>
